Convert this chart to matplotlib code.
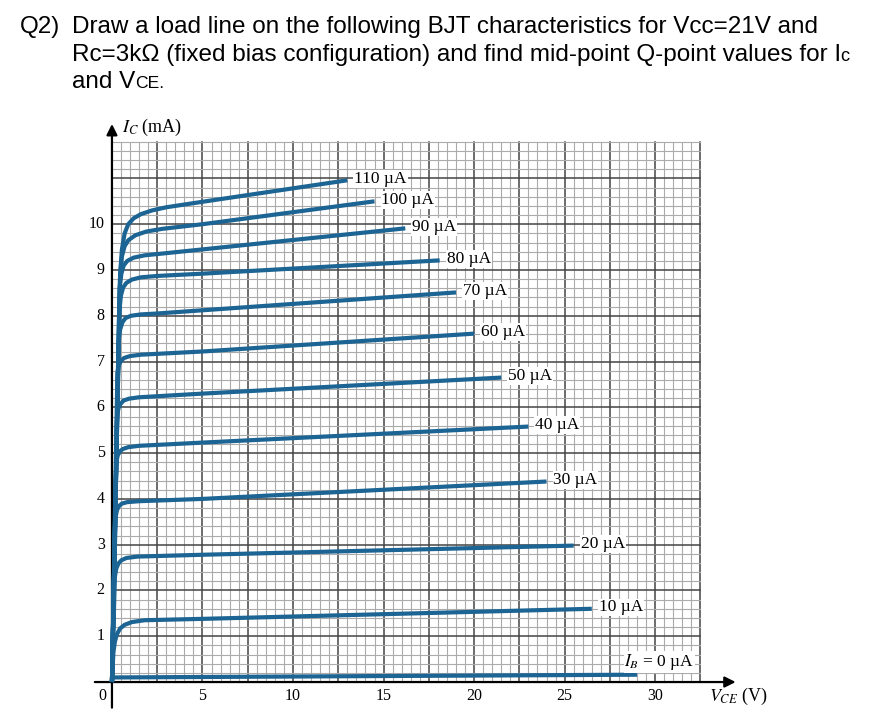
import numpy as np
import matplotlib
matplotlib.use("Agg")
import matplotlib.pyplot as plt

plt.rcParams['font.family'] = ['Liberation Serif', 'DejaVu Serif']
plt.rcParams['mathtext.fontset'] = 'stix'

# base currents (uA) and the read-off curve points (V_CE in V, I_C in mA)
ib_labels = [110, 100, 90, 80, 70, 60, 50, 40, 30, 20, 10, 0]

vce_110 = [0, 0.45, 0.55, 0.7, 0.9, 1.2, 1.6, 2.2, 3.0, 5, 13.0]
ic_110 = [0, 8.9, 9.45, 9.8, 10.0, 10.13, 10.22, 10.3, 10.37, 10.49, 10.96]
vce_100 = [0, 0.45, 0.55, 0.7, 0.9, 1.3, 1.9, 2.8, 5, 14.5]
ic_100 = [0, 8.9, 9.3, 9.52, 9.65, 9.76, 9.84, 9.9, 10.0, 10.5]
vce_90 = [0, 0.42, 0.52, 0.65, 0.85, 1.2, 1.8, 2.8, 5, 16.2]
ic_90 = [0, 8.6, 8.92, 9.1, 9.2, 9.27, 9.32, 9.36, 9.45, 9.91]
vce_80 = [0, 0.4, 0.5, 0.62, 0.8, 1.1, 1.6, 2.5, 5, 18.1]
ic_80 = [0, 8.1, 8.45, 8.62, 8.72, 8.79, 8.84, 8.87, 8.92, 9.21]
vce_70 = [0, 0.36, 0.45, 0.58, 0.75, 1.05, 1.6, 2.5, 5, 19.0]
ic_70 = [0, 7.4, 7.7, 7.86, 7.95, 8.0, 8.03, 8.05, 8.12, 8.51]
vce_60 = [0, 0.3, 0.38, 0.5, 0.68, 1.0, 1.6, 5, 20.0]
ic_60 = [0, 6.75, 6.92, 7.02, 7.08, 7.12, 7.15, 7.22, 7.61]
vce_50 = [0, 0.28, 0.36, 0.48, 0.65, 0.95, 1.5, 5, 21.5]
ic_50 = [0, 5.8, 5.98, 6.08, 6.15, 6.19, 6.22, 6.3, 6.65]
vce_40 = [0, 0.24, 0.32, 0.44, 0.6, 0.9, 1.5, 5, 23.0]
ic_40 = [0, 4.8, 4.95, 5.04, 5.09, 5.13, 5.16, 5.23, 5.58]
vce_30 = [0, 0.2, 0.28, 0.4, 0.56, 0.85, 1.5, 5, 24.0]
ic_30 = [0, 3.6, 3.76, 3.85, 3.9, 3.93, 3.95, 4.0, 4.38]
vce_20 = [0, 0.16, 0.24, 0.36, 0.52, 0.8, 1.4, 5, 25.5]
ic_20 = [0, 2.3, 2.48, 2.59, 2.66, 2.71, 2.74, 2.78, 2.98]
vce_10 = [0, 0.08, 0.16, 0.28, 0.45, 0.7, 1.1, 1.8, 5, 26.5]
ic_10 = [0, 0.65, 0.88, 1.05, 1.17, 1.25, 1.31, 1.35, 1.38, 1.6]
vce_0 = [0, 29.0]
ic_0 = [0.1, 0.16]

curves = [(vce_110, ic_110), (vce_100, ic_100), (vce_90, ic_90), (vce_80, ic_80),
          (vce_70, ic_70), (vce_60, ic_60), (vce_50, ic_50), (vce_40, ic_40),
          (vce_30, ic_30), (vce_20, ic_20), (vce_10, ic_10), (vce_0, ic_0)]

x_ticks = [5, 10, 15, 20, 25, 30]
y_ticks = [1, 2, 3, 4, 5, 6, 7, 8, 9, 10]

fig = plt.figure(figsize=(8.73, 7.21), dpi=100)
ax = fig.add_axes([60 / 873, 6 / 721, 740 / 873, 597 / 721])
ax.set_xlim(-2.87, 38.0)
ax.set_ylim(-0.72, 12.32)
ax.axis('off')

# graph paper
v_max, i_max = 32.5, 11.8
for v in np.arange(0, v_max + 0.01, 0.5):
    major = abs(v / 2.5 - round(v / 2.5)) < 1e-6
    ax.plot([v, v], [0, i_max], color='#444444' if major else '#ababab',
            lw=1.1 if major else 0.8, zorder=1)
for i in np.arange(0, i_max + 0.01, 0.2):
    major = abs(i - round(i)) < 1e-6
    ax.plot([0, v_max], [i, i], color='#444444' if major else '#ababab',
            lw=1.1 if major else 0.8, zorder=1)

# axes with arrows
ax.annotate('', xy=(34.6, 0), xytext=(-1.1, 0),
            arrowprops=dict(arrowstyle='-|>', lw=1.6, color='black', mutation_scale=16), zorder=3)
ax.annotate('', xy=(0, 12.25), xytext=(0, -0.62),
            arrowprops=dict(arrowstyle='-|>', lw=1.6, color='black', mutation_scale=16), zorder=3)

# characteristic curves
blue = '#1b6493'
for (v, i) in curves:
    ax.plot(v, i, color=blue, lw=3.0, solid_capstyle='butt', solid_joinstyle='round', zorder=4)

for ib, (v, i) in zip(ib_labels[:-1], curves[:-1]):
    ax.annotate(f'{ib} µA', xy=(v[-1], i[-1]), xytext=(5, 1), textcoords='offset points',
                ha='left', va='center', fontsize=12.5, zorder=5,
                bbox=dict(boxstyle='square,pad=0.05', fc='white', ec='none'))
ax.text(28.3, 0.44, r'$I_B$ = 0 µA', ha='left', va='center', fontsize=12.5, zorder=5,
        bbox=dict(boxstyle='square,pad=0.05', fc='white', ec='none'))

# tick labels
for t in x_ticks:
    ax.text(t, -0.3, str(t), ha='center', va='center', fontsize=11.5)
for t in y_ticks:
    ax.text(-0.4, t, str(t), ha='right', va='center', fontsize=11.5)
ax.text(-0.55, -0.3, '0', ha='center', va='center', fontsize=11.5)

ax.text(0.55, 12.12, r'$I_C$ (mA)', ha='left', va='center', fontsize=13)
ax.text(33.0, -0.32, r'$V_{CE}$ (V)', ha='left', va='center', fontsize=13)

# question text
qf = ['Liberation Sans', 'DejaVu Sans']
fs = 17.5
fig.text(20 / 873, 1 - 33 / 721, 'Q2)', family=qf, fontsize=fs, va='baseline')
fig.text(72 / 873, 1 - 33 / 721,
         'Draw a load line on the following BJT characteristics for Vcc=21V and',
         family=qf, fontsize=fs, va='baseline')
t2 = fig.text(72 / 873, 1 - 61 / 721,
              'Rc=3kΩ (fixed bias configuration) and find mid-point Q-point values for I',
              family=qf, fontsize=fs, va='baseline')
t3 = fig.text(72 / 873, 1 - 88 / 721, 'and V', family=qf, fontsize=fs, va='baseline')
fig.canvas.draw()
t2b = t2.get_window_extent()
fig.text(t2b.x1 / 873 - 0.001, t2.get_position()[1], 'c', family=qf, fontsize=fs * 0.75,
         va='baseline')
t3b = t3.get_window_extent()
fig.text(t3b.x1 / 873, t3.get_position()[1], 'CE.', family=qf, fontsize=fs * 0.72,
         va='baseline')

fig.savefig('out.png', dpi=100)
